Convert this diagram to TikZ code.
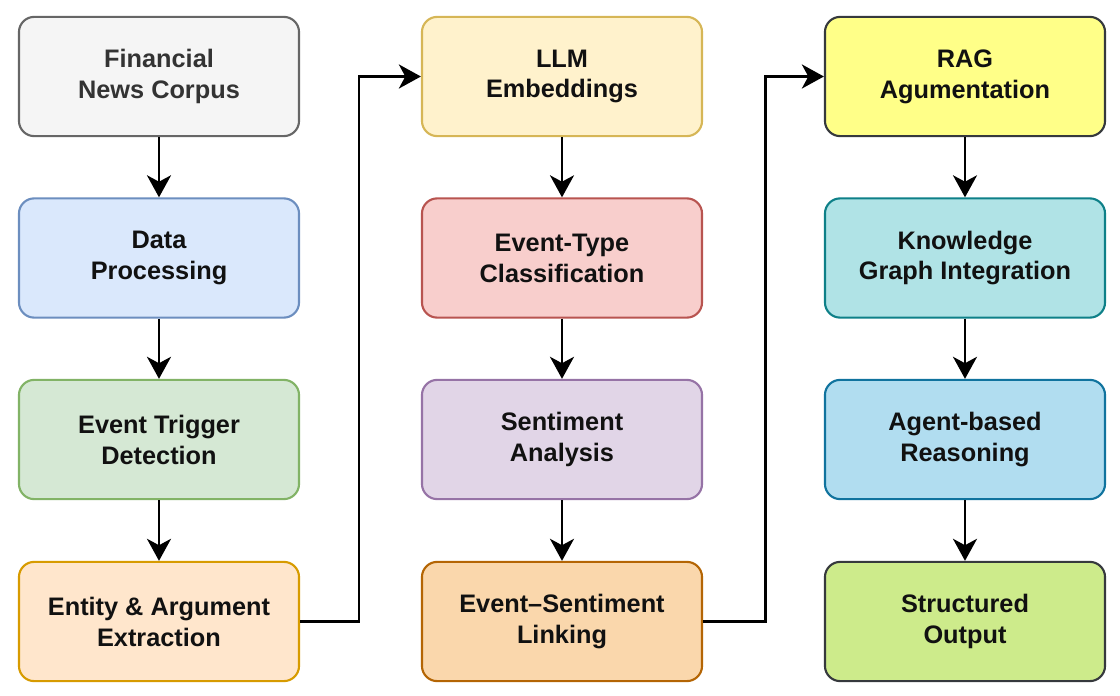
\documentclass[tikz,border=0pt]{standalone}
\usepackage{fontspec}
\setmainfont{Liberation Sans}
\usetikzlibrary{arrows.meta}

% Farben der Kaesten
\definecolor{grayFill}{HTML}{F5F5F5}
\definecolor{grayLine}{HTML}{666666}
\definecolor{grayText}{HTML}{333333}
\definecolor{blueFill}{HTML}{DAE8FC}
\definecolor{blueLine}{HTML}{6C8EBF}
\definecolor{greenFill}{HTML}{D5E8D4}
\definecolor{greenLine}{HTML}{82B366}
\definecolor{orangeFill}{HTML}{FFE6CC}
\definecolor{orangeLine}{HTML}{D79B00}
\definecolor{yellowFill}{HTML}{FFF2CC}
\definecolor{yellowLine}{HTML}{D6B656}
\definecolor{redFill}{HTML}{F8CECC}
\definecolor{redLine}{HTML}{B85450}
\definecolor{purpleFill}{HTML}{E1D5E7}
\definecolor{purpleLine}{HTML}{9673A6}
\definecolor{peachFill}{HTML}{FAD7AC}
\definecolor{peachLine}{HTML}{B46504}
\definecolor{lemonFill}{HTML}{FFFF88}
\definecolor{darkLine}{HTML}{36393D}
\definecolor{tealFill}{HTML}{B0E3E6}
\definecolor{tealLine}{HTML}{0E8088}
\definecolor{skyFill}{HTML}{B1DDF0}
\definecolor{skyLine}{HTML}{10739E}
\definecolor{limeFill}{HTML}{CDEB8B}
\definecolor{textBlack}{HTML}{111111}

\begin{document}
\begin{tikzpicture}[
    x=0.025cm,
    y=-0.025cm,
    >={Stealth[length=0.55cm,width=0.6cm,inset=0.16cm]},
    box/.style 2 args={
        draw=#2,
        fill=#1,
        rounded corners=0.38cm,
        line width=1.5pt,
        minimum width=7.0cm,
        minimum height=2.98cm,
        align=center,
        text=textBlack,
        font=\bfseries\fontsize{18}{22}\selectfont
    },
    arr/.style={->,line width=2pt,black}
]

\useasboundingbox (0,0) rectangle (1120,696);

% ============================================================
% Spalte 1
% ============================================================

\node[box={grayFill}{grayLine},text=grayText] (corpus) at (159,76.5)
    {Financial\\News Corpus};

\node[box={blueFill}{blueLine}] (proc) at (159,258)
    {Data\\Processing};

\node[box={greenFill}{greenLine}] (trigger) at (159,439.5)
    {Event Trigger\\Detection};

\node[box={orangeFill}{orangeLine}] (entity) at (159,621.5)
    {Entity \& Argument\\Extraction};

% ============================================================
% Spalte 2
% ============================================================

\node[box={yellowFill}{yellowLine}] (embed) at (562,76.5)
    {LLM\\Embeddings};

\node[box={redFill}{redLine}] (etype) at (562,258)
    {Event-Type\\Classification};

\node[box={purpleFill}{purpleLine}] (senti) at (562,439.5)
    {Sentiment\\Analysis};

\node[box={peachFill}{peachLine}] (link) at (562,621.5)
    {Event–Sentiment\\Linking};

% ============================================================
% Spalte 3
% ============================================================

\node[box={lemonFill}{darkLine}] (rag) at (965,76.5)
    {RAG\\Agumentation};

\node[box={tealFill}{tealLine}] (kg) at (965,258)
    {Knowledge\\Graph Integration};

\node[box={skyFill}{skyLine}] (agent) at (965,439.5)
    {Agent-based\\Reasoning};

\node[box={limeFill}{darkLine}] (out) at (965,621.5)
    {Structured\\Output};

% ============================================================
% Pfeile
% ============================================================

\draw[arr] (corpus) -- (proc);
\draw[arr] (proc) -- (trigger);
\draw[arr] (trigger) -- (entity);

\draw[arr] (embed) -- (etype);
\draw[arr] (etype) -- (senti);
\draw[arr] (senti) -- (link);

\draw[arr] (rag) -- (kg);
\draw[arr] (kg) -- (agent);
\draw[arr] (agent) -- (out);

% Uebergaenge zwischen den Spalten
\draw[arr] (entity.east) -- ++(59,0) |- (embed.west);
\draw[arr] (link.east) -- ++(62,0) |- (rag.west);

\end{tikzpicture}
\end{document}
